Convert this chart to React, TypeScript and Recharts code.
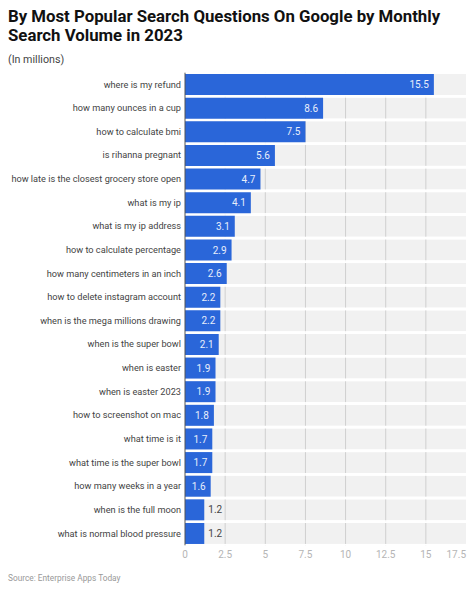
import React from 'react';
import { BarChart, Bar, XAxis, YAxis, CartesianGrid, LabelList } from 'recharts';

const questions = [
  'where is my refund',
  'how many ounces in a cup',
  'how to calculate bmi',
  'is rihanna pregnant',
  'how late is the closest grocery store open',
  'what is my ip',
  'what is my ip address',
  'how to calculate percentage',
  'how many centimeters in an inch',
  'how to delete instagram account',
  'when is the mega millions drawing',
  'when is the super bowl',
  'when is easter',
  'when is easter 2023',
  'how to screenshot on mac',
  'what time is it',
  'what time is the super bowl',
  'how many weeks in a year',
  'when is the full moon',
  'what is normal blood pressure',
];
const volumes = [15.5, 8.6, 7.5, 5.6, 4.7, 4.1, 3.1, 2.9, 2.6, 2.2, 2.2, 2.1, 1.9, 1.9, 1.8, 1.7, 1.7, 1.6, 1.2, 1.2];
const xTicks = [0, 2.5, 5, 7.5, 10, 12.5, 15, 17.5];
const gridValues = [2.5, 5, 7.5, 10, 12.5, 15];

const data = questions.map((name, i) => ({ name, value: volumes[i] }));

const font = 'Roboto, sans-serif';

// value sits inside the bar when it fits, otherwise just past the end
function BarValue(props: any) {
  const { x, y, width, height, value } = props;
  const inside = value >= 1.6;
  return (
    <text
      x={inside ? x + width - 5 : x + width + 4}
      y={y + height / 2}
      dy="0.36em"
      textAnchor={inside ? 'end' : 'start'}
      fontSize={10}
      fontFamily={font}
      fill={inside ? '#e8eefb' : '#444'}
    >
      {value}
    </text>
  );
}

// no wrapping on the long questions
function QuestionTick(props: any) {
  const { x, y, payload } = props;
  return (
    <text x={x + 4} y={y} dy="0.33em" textAnchor="end" fontSize={9.2} fontFamily={font} fill="#444">
      {payload.value}
    </text>
  );
}

// last label is pulled in so it stays inside the plot
function ValueTick(props: any) {
  const { x, y, payload } = props;
  const last = payload.value === xTicks[xTicks.length - 1];
  return (
    <text x={x} y={y} dy="0.48em" textAnchor={last ? 'end' : 'middle'} fontSize={10} fontFamily={font} fill="#b5b5b5">
      {payload.value}
    </text>
  );
}

// grey row, plus white strips either side so the grid stops between rows
function RowBackground(props: any) {
  const { x, y, width, height } = props;
  return (
    <g>
      <rect x={x} y={y} width={width} height={height} fill="rgba(0,0,0,0.055)" />
      <rect x={x} y={y - 1.4} width={width} height={1.4} fill="#fff" />
      <rect x={x} y={y + height} width={width} height={1.4} fill="#fff" />
    </g>
  );
}

export default function App() {
  return (
    <div style={{ position: 'absolute', left: 0, top: 0, width: 474, height: 591, background: '#fff', fontFamily: font, overflow: 'hidden' }}>
      <div style={{ position: 'absolute', left: 8, top: 7, width: 460, fontSize: 16.8, lineHeight: '19px', fontWeight: 700, color: '#111' }}>
        By Most Popular Search Questions On Google by Monthly Search Volume in 2023
      </div>
      <div style={{ position: 'absolute', left: 8, top: 53, fontSize: 10.7, lineHeight: '14px', color: '#444' }}>(In millions)</div>
      <div style={{ position: 'absolute', left: 8, top: 573, fontSize: 8.3, lineHeight: '11px', color: '#999' }}>Source: Enterprise Apps Today</div>
      <div style={{ position: 'absolute', left: 0, top: 72 }}>
        <BarChart
          width={474}
          height={499}
          data={data}
          layout="vertical"
          barCategoryGap={1.3}
          margin={{ top: 0.7, right: 8, bottom: 0.7, left: 0 }}
        >
          <CartesianGrid horizontal={false} stroke="#dcdcdc" verticalValues={gridValues} />
          <XAxis
            type="number"
            domain={[0, 17.5]}
            ticks={xTicks}
            interval={0}
            axisLine={false}
            tickLine={false}
            height={25}
            tick={ValueTick}
          />
          <YAxis
            type="category"
            dataKey="name"
            width={185}
            interval={0}
            axisLine={{ stroke: '#555' }}
            tickLine={false}
            tick={QuestionTick}
          />
          <Bar
            dataKey="value"
            fill="#2a66d9"
            background={RowBackground}
            isAnimationActive={false}
          >
            <LabelList dataKey="value" content={BarValue} />
          </Bar>
        </BarChart>
      </div>
    </div>
  );
}
